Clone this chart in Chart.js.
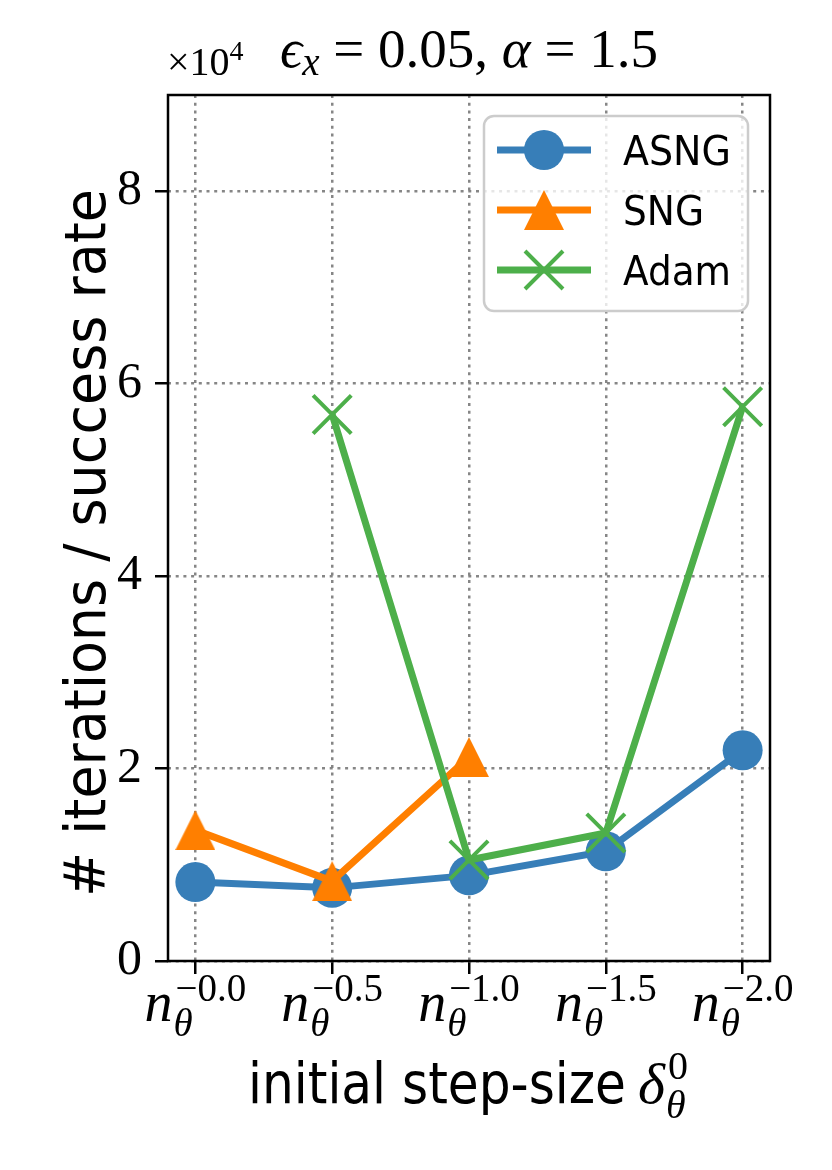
<!DOCTYPE html>
<html>
<head>
<meta charset="utf-8">
<script src="https://cdn.jsdelivr.net/npm/chart.js@4.4.1/dist/chart.umd.min.js"></script>
<style>
html, body { margin: 0; padding: 0; background: #fff; }
#wrap { width: 832px; height: 1170px; position: relative; }
</style>
</head>
<body>
<div id="wrap"><canvas id="graphe"></canvas></div>
<script>
// Données
const xValues = [0, 1, 2, 3, 4];
const xExponents = ['\u22120.0', '\u22120.5', '\u22121.0', '\u22121.5', '\u22122.0'];
const yTicks = [0, 20000, 40000, 60000, 80000];
const seriesNames = ['ASNG', 'SNG', 'Adam'];
const asngValues = [8200, 7600, 8900, 11400, 21900];
const sngValues = [13600, 8300, 21200, null, null];
const adamValues = [null, 56800, 10500, 13300, 57600];

const colors = ['#377eb8', '#ff7f00', '#4daf4a'];
const gridColor = 'rgba(128, 128, 128, 0.95)';
const serif = "'Liberation Serif', 'DejaVu Serif', serif";
const sans = "'DejaVu Sans', sans-serif";

// Marqueur triangle type matplotlib (centre = centre de la boite)
function triangleMarker(size, color) {
    const c = document.createElement('canvas');
    c.width = size;
    c.height = size;
    const g = c.getContext('2d');
    g.fillStyle = color;
    g.beginPath();
    g.moveTo(size / 2, 0);
    g.lineTo(size, size);
    g.lineTo(0, size);
    g.closePath();
    g.fill();
    return c;
}
const triangle = triangleMarker(40, colors[1]);

function toPoints(values) {
    return values.map((v, i) => ({ x: xValues[i], y: v }));
}

// Texte composé (indices / exposants)
function drawRuns(ctx, runs, x, y, center) {
    let w = 0;
    runs.forEach(r => { ctx.font = r.f; w += ctx.measureText(r.t).width + (r.dx || 0); });
    let cx = center ? x - w / 2 : x;
    runs.forEach(r => {
        ctx.font = r.f;
        cx += (r.dx || 0);
        ctx.fillText(r.t, cx, y + (r.dy || 0));
        cx += ctx.measureText(r.t).width;
    });
}

const textPlugin = {
    id: 'textes',
    afterDraw(chart) {
        const ctx = chart.ctx;
        const area = chart.chartArea;
        const sx = chart.scales.x;
        ctx.save();
        ctx.fillStyle = '#000';
        ctx.textAlign = 'left';
        ctx.textBaseline = 'alphabetic';

        // Cadre
        ctx.strokeStyle = '#000';
        ctx.lineWidth = 2.5;
        ctx.strokeRect(area.left, area.top, area.right - area.left, area.bottom - area.top);

        // Titre
        drawRuns(ctx, [
            { t: '\u03f5', f: 'italic 55px ' + serif },
            { t: 'x', f: 'italic 39px ' + serif, dy: 8 },
            { t: ' = 0.05, ', f: '55px ' + serif },
            { t: '\u03b1', f: 'italic 55px ' + serif },
            { t: ' = 1.5', f: '55px ' + serif }
        ], (area.left + area.right) / 2, 67, true);

        // Facteur d'échelle
        drawRuns(ctx, [
            { t: '\u00d710', f: '40px ' + serif },
            { t: '4', f: '28px ' + serif, dy: -15 }
        ], 167, 75, false);

        // Etiquettes de l'axe x
        xValues.forEach((v, i) => {
            const px = sx.getPixelForValue(v);
            ctx.font = 'italic 56px ' + serif;
            const wn = ctx.measureText('n').width;
            ctx.font = '39px ' + serif;
            const wsup = ctx.measureText(xExponents[i]).width;
            ctx.font = 'italic 39px ' + serif;
            const wsub = ctx.measureText('\u03b8').width;
            const w = wn + 3 + Math.max(wsup, wsub);
            const x0 = px - w / 2;
            ctx.font = 'italic 56px ' + serif;
            ctx.fillText('n', x0, 1021);
            ctx.font = 'italic 39px ' + serif;
            ctx.fillText('\u03b8', x0 + wn + 1, 1036);
            ctx.font = '39px ' + serif;
            ctx.fillText(xExponents[i], x0 + wn + 3, 1001);
        });

        // Titre de l'axe x
        ctx.font = '57px ' + sans;
        const lab = 'initial step-size';
        ctx.fillText(lab, 248, 1103, 378);
        let lx = 248 + 378 + 12;
        ctx.font = 'italic 58px ' + serif;
        ctx.fillText('\u03b4', lx, 1103);
        lx += ctx.measureText('\u03b4').width + 1;
        ctx.font = 'italic 40px ' + serif;
        ctx.fillText('\u03b8', lx, 1118);
        ctx.font = '40px ' + serif;
        ctx.fillText('0', lx + 2, 1079);

        // Titre de l'axe y
        ctx.save();
        ctx.translate(105, 543);
        ctx.rotate(-Math.PI / 2);
        ctx.textAlign = 'center';
        ctx.font = '57px ' + sans;
        ctx.fillText('# iterations / success rate', 0, 0, 708);
        ctx.restore();

        // Légende
        const bx = 484, by = 116, bw = 264, bh = 195, br = 10;
        ctx.beginPath();
        ctx.moveTo(bx + br, by);
        ctx.arcTo(bx + bw, by, bx + bw, by + bh, br);
        ctx.arcTo(bx + bw, by + bh, bx, by + bh, br);
        ctx.arcTo(bx, by + bh, bx, by, br);
        ctx.arcTo(bx, by, bx + bw, by, br);
        ctx.closePath();
        ctx.fillStyle = 'rgba(255, 255, 255, 0.8)';
        ctx.fill();
        ctx.strokeStyle = '#cccccc';
        ctx.lineWidth = 2.5;
        ctx.stroke();

        seriesNames.forEach((name, i) => {
            const ry = 150 + i * 60;
            const mx = 544;
            ctx.strokeStyle = colors[i];
            ctx.fillStyle = colors[i];
            ctx.lineWidth = 7;
            ctx.lineCap = 'butt';
            ctx.beginPath();
            ctx.moveTo(497, ry);
            ctx.lineTo(591, ry);
            ctx.stroke();
            if (i === 0) {
                ctx.beginPath();
                ctx.arc(mx, ry, 20, 0, Math.PI * 2);
                ctx.fill();
            } else if (i === 1) {
                ctx.drawImage(triangle, mx - 20, ry - 20);
            } else {
                ctx.lineWidth = 4;
                ctx.beginPath();
                ctx.moveTo(mx - 19, ry - 19);
                ctx.lineTo(mx + 19, ry + 19);
                ctx.moveTo(mx - 19, ry + 19);
                ctx.lineTo(mx + 19, ry - 19);
                ctx.stroke();
            }
            ctx.fillStyle = '#000';
            ctx.font = '41px ' + sans;
            ctx.fillText(name, 623, ry + 15, name.length * 27);
        });

        ctx.restore();
    }
};

const gridOptions = {
    color: gridColor,
    lineWidth: 2.5,
    drawTicks: true,
    tickLength: 13,
    tickColor: '#000',
    tickWidth: 2.5,
    tickBorderDash: []
};

const ctx = document.getElementById('graphe').getContext('2d');
const chart = new Chart(ctx, {
    type: 'line',
    data: {
        datasets: [
            {
                label: seriesNames[0],
                data: toPoints(asngValues),
                borderColor: colors[0],
                backgroundColor: colors[0],
                borderWidth: 7,
                pointStyle: 'circle',
                pointRadius: 20,
                pointBorderWidth: 0,
                pointBackgroundColor: colors[0],
                order: 3
            },
            {
                label: seriesNames[1],
                data: toPoints(sngValues),
                borderColor: colors[1],
                backgroundColor: colors[1],
                borderWidth: 7,
                pointStyle: triangle,
                pointRadius: 20,
                order: 2
            },
            {
                label: seriesNames[2],
                data: toPoints(adamValues),
                borderColor: colors[2],
                backgroundColor: colors[2],
                borderWidth: 7,
                pointStyle: 'crossRot',
                pointRadius: 27,
                pointBorderWidth: 4,
                pointBorderColor: colors[2],
                order: 1
            }
        ]
    },
    options: {
        responsive: true,
        maintainAspectRatio: false,
        animation: false,
        events: [],
        clip: false,
        elements: {
            line: { tension: 0, borderJoinStyle: 'round', borderCapStyle: 'butt' }
        },
        layout: { padding: { top: 95, right: 62, bottom: 0, left: 0 } },
        plugins: {
            legend: { display: false },
            tooltip: { enabled: false },
            title: { display: false }
        },
        scales: {
            x: {
                type: 'linear',
                min: -0.2,
                max: 4.2,
                afterBuildTicks: s => { s.ticks = xValues.map(v => ({ value: v })); },
                afterFit: s => { s.height = 209; },
                ticks: { display: false },
                grid: gridOptions,
                border: { display: false, dash: [3, 4.7] }
            },
            y: {
                min: 0,
                max: 90000,
                afterBuildTicks: s => { s.ticks = yTicks.map(v => ({ value: v })); },
                afterFit: s => { s.width = 168; },
                ticks: {
                    callback: v => String(v / 10000),
                    font: { family: serif, size: 50 },
                    color: '#000',
                    padding: 13
                },
                grid: gridOptions,
                border: { display: false, dash: [3, 4.7] }
            }
        }
    },
    plugins: [textPlugin]
});
</script>
</body>
</html>
